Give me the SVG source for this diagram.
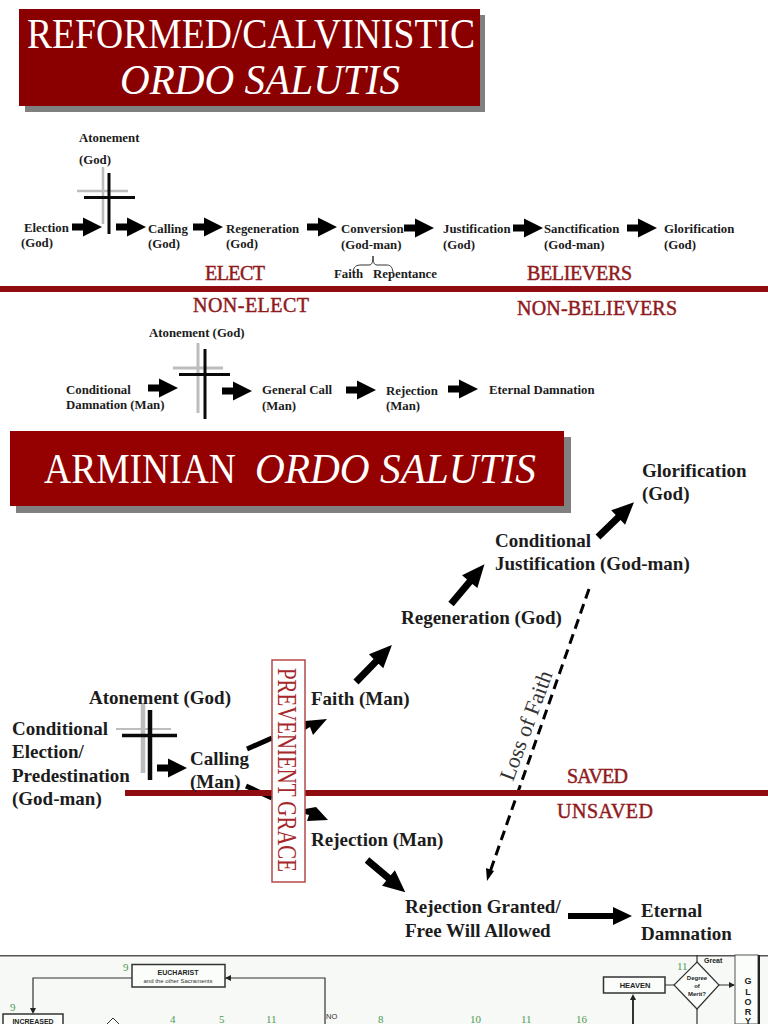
<svg xmlns="http://www.w3.org/2000/svg" width="768" height="1024" viewBox="0 0 768 1024">
<style>
.t{font-family:"Liberation Serif",serif;font-weight:bold;fill:#1c1c1c}
.s{font-size:12.8px}
.m{font-size:19px}
.red{font-family:"Liberation Serif",serif;fill:#8f1a1c;stroke:#8f1a1c;stroke-width:.45px;font-size:20px}
.sh{fill:#808080}
.bt{font-family:"Liberation Serif",serif;fill:#fff}
.bi{font-style:italic}
.div{fill:#8f0d10}
.g{stroke:#bdbdbd;fill:none}
.k{stroke:#0a0a0a;fill:none}
.fl{font-family:"Liberation Sans",sans-serif;fill:#222;font-weight:bold}
.gn{font-family:"Liberation Serif",serif;fill:#4f9a55;font-size:11px}
.fb{fill:#fbfdfa;stroke:#333}
.fc{stroke:#333;fill:none}
</style>
<defs>
<path id="a" d="M0-3.500H11V-9.500L30 0 11 9.500V3.500H0Z" fill="#000"/>
<path id="b" d="M0-3.500H28V-10L50 0 28 10V3.500H0Z" fill="#000"/>
</defs>
<rect width="768" height="1024" fill="#fff"/>

<g id="banner-reformed">
<rect class="sh" x="25" y="15" width="460" height="97"/>
<rect x="19" y="9" width="461" height="97" fill="#8a0000"/>
<text class="bt" x="27" y="48" font-size="42" textLength="448" lengthAdjust="spacingAndGlyphs">REFORMED/CALVINISTIC</text>
<text class="bt bi" x="120" y="94" font-size="42" textLength="280" lengthAdjust="spacingAndGlyphs">ORDO SALUTIS</text>
</g>

<g id="connectors">
<use href="#a" transform="translate(72 227)"/>
<use href="#a" transform="translate(116 227)"/>
<use href="#a" transform="translate(193 227)"/>
<use href="#a" transform="translate(307 227)"/>
<use href="#a" transform="translate(404 228)"/>
<use href="#a" transform="translate(513 228)"/>
<use href="#a" transform="translate(627 228)"/>
<use href="#a" transform="translate(148 388)"/>
<use href="#a" transform="translate(222 391)"/>
<use href="#a" transform="translate(346 390)"/>
<use href="#a" transform="translate(448 389)"/>
<use href="#a" transform="translate(157 768)"/>
<path d="M247 749L272 738" stroke="#000" stroke-width="5" fill="none"/>
<path d="M246 786L272 798" stroke="#000" stroke-width="5" fill="none"/>
<path d="M305 721L327 719 313 735 310 727 305 730Z" fill="#000"/>
<path d="M305 809L316 807 328 820 307 821 309 815 305 814Z" fill="#000"/>
<use href="#b" transform="translate(356 682) rotate(-45.800) scale(1.030 1)"/>
<use href="#b" transform="translate(451 604) rotate(-50) scale(1.040 1)"/>
<use href="#b" transform="translate(598 537) rotate(-44)"/>
<use href="#b" transform="translate(367 860) rotate(40)"/>
<path d="M0-3H45V-9L64 0 45 9V3H0Z" transform="translate(568 916)" fill="#000"/>
<path d="M589 589L490 872" stroke="#000" stroke-width="3" stroke-dasharray="10 6" fill="none"/>
<path d="M487 881L486 868 494 871Z" fill="#000"/>
<path d="M353 272C354 266 356 265 362 265H369C372 265 373 262 373 256C373 262 374 265 377 265H386C390 265 392 266 393 272" stroke="#333" fill="none"/>
</g>

<g id="dividers">
<rect class="div" x="0" y="286" width="768" height="6"/>
<rect class="div" x="125" y="790" width="643" height="6"/>
</g>

<g id="cross-1">
<path class="g" stroke-width="2.500" d="M103 167V224M77 191H128"/>
<path class="k" stroke-width="3" d="M109 173V234M84 197.500H135"/>
</g>
<g id="cross-2">
<path class="g" stroke-width="3" d="M198 343V413M173 368H223"/>
<path class="k" stroke-width="3" d="M205 349V419M179 374.500H230"/>
</g>
<g id="cross-3">
<path class="g" stroke-width="4.500" d="M143 703V773"/>
<path class="g" stroke-width="2" d="M116 729H171"/>
<path class="k" stroke-width="4.500" d="M150 710V780"/>
<path class="k" stroke-width="3.500" d="M122 735.500H177"/>
</g>

<g id="labels-reformed">
<text class="t s" x="79" y="142">Atonement</text>
<text class="t s" x="79" y="164">(God)</text>
<text class="t s" x="24" y="232">Election</text><text class="t s" x="21" y="247">(God)</text>
<text class="t s" x="148" y="233">Calling</text><text class="t s" x="148" y="248">(God)</text>
<text class="t s" x="226" y="233">Regeneration</text><text class="t s" x="226" y="248">(God)</text>
<text class="t s" x="341" y="233">Conversion</text><text class="t s" x="341" y="249">(God-man)</text>
<text class="t s" x="443" y="233">Justification</text><text class="t s" x="443" y="249">(God)</text>
<text class="t s" x="544" y="233">Sanctification</text><text class="t s" x="544" y="249">(God-man)</text>
<text class="t s" x="664" y="233">Glorification</text><text class="t s" x="664" y="249">(God)</text>
<text class="t s" x="334" y="278">Faith</text><text class="t s" x="373" y="278">Repentance</text>
<text class="red" x="205" y="280" textLength="60">ELECT</text>
<text class="red" x="527" y="280" textLength="105">BELIEVERS</text>
<text class="red" x="193" y="312" textLength="116">NON-ELECT</text>
<text class="red" x="517" y="315" textLength="160">NON-BELIEVERS</text>
</g>

<g id="labels-nonelect">
<text class="t s" x="149" y="337">Atonement (God)</text>
<text class="t s" x="66" y="394">Conditional</text><text class="t s" x="66" y="409">Damnation (Man)</text>
<text class="t s" x="262" y="394">General Call</text><text class="t s" x="262" y="410">(Man)</text>
<text class="t s" x="386" y="395">Rejection</text><text class="t s" x="386" y="410">(Man)</text>
<text class="t s" x="489" y="394">Eternal Damnation</text>
</g>

<g id="banner-arminian">
<rect class="sh" x="16" y="437" width="555" height="76"/>
<rect x="10" y="431" width="554" height="75" fill="#950000"/>
<text class="bt" x="44" y="483" font-size="42" textLength="192" lengthAdjust="spacingAndGlyphs">ARMINIAN</text>
<text class="bt bi" x="255" y="483" font-size="42" textLength="281" lengthAdjust="spacingAndGlyphs">ORDO SALUTIS</text>
</g>

<g id="prevenient-grace">
<rect x="272" y="660" width="33" height="222" fill="#fff" stroke="#b5494c" stroke-width="1.500"/>
<text transform="translate(278 668) rotate(90)" font-family="Liberation Serif,serif" font-size="27" fill="#a6282b" textLength="204" lengthAdjust="spacingAndGlyphs">PREVENIENT GRACE</text>
</g>

<g id="labels-arminian">
<text class="t m" x="642" y="477">Glorification</text><text class="t m" x="642" y="500">(God)</text>
<text class="t m" x="495" y="547">Conditional</text><text class="t m" x="495" y="570">Justification (God-man)</text>
<text class="t m" x="401" y="624">Regeneration (God)</text>
<text class="t m" x="311" y="705">Faith (Man)</text>
<text class="t m" x="89" y="704">Atonement (God)</text>
<text class="t m" x="12" y="735">Conditional</text>
<text class="t m" x="12" y="758">Election/</text>
<text class="t m" x="12" y="782">Predestination</text>
<text class="t m" x="12" y="805">(God-man)</text>
<text class="t m" x="190" y="765">Calling</text><text class="t m" x="190" y="788">(Man)</text>
<text class="t m" x="311" y="846">Rejection (Man)</text>
<text class="t m" x="405" y="913">Rejection Granted/</text>
<text class="t m" x="405" y="937">Free Will Allowed</text>
<text class="t m" x="641" y="917">Eternal</text>
<text class="t m" x="641" y="940">Damnation</text>
<text font-family="Liberation Serif,serif" font-size="22" fill="#333" transform="translate(513 782) rotate(-69.700)" textLength="115" lengthAdjust="spacingAndGlyphs">Loss of Faith</text>
<text class="red" x="567" y="783" textLength="61">SAVED</text>
<text class="red" x="557" y="818" textLength="96">UNSAVED</text>
</g>

<g id="flowchart-fragment">
<rect x="0" y="955" width="768" height="69" fill="#f6f9f5"/>
<rect x="0" y="955" width="768" height="1.500" fill="#555"/>
<g id="node-eucharist">
<rect class="fb" x="132" y="964.500" width="93" height="22.500" stroke-width="1.500"/>
<text class="fl" x="178" y="975" font-size="7" text-anchor="middle">EUCHARIST</text>
<text x="178" y="983" font-family="Liberation Sans,sans-serif" fill="#333" font-size="6" text-anchor="middle">and the other Sacraments</text>
</g>
<path class="fc" stroke-width="1.200" d="M132 978H33V1012M325 1024V978H225"/>
<path d="M33 1014L30 1008H36Z M225 978L231 975V981Z" fill="#222"/>
<g id="node-increased">
<rect class="fb" x="3" y="1014" width="60" height="14" stroke-width="1.500"/>
<text class="fl" x="33" y="1024" font-size="7" text-anchor="middle">INCREASED</text>
</g>
<path id="node-diamond-left" class="fb" d="M101 1030L113 1018 125 1030" stroke-width="1"/>
<text x="326" y="1019" font-family="Liberation Sans,sans-serif" fill="#333" font-size="7.500">NO</text>
<text class="gn" x="123" y="971">9</text><text class="gn" x="10" y="1011">9</text><text class="gn" x="170" y="1023">4</text><text class="gn" x="219" y="1023">5</text><text class="gn" x="266" y="1023">11</text><text class="gn" x="378" y="1023">8</text><text class="gn" x="470" y="1023">10</text><text class="gn" x="521" y="1023">11</text><text class="gn" x="576" y="1023">16</text>
<g id="node-heaven">
<rect class="fb" x="603.500" y="977" width="61.500" height="16" stroke-width="1.500"/>
<text class="fl" x="635" y="988" font-size="7.500" text-anchor="middle">HEAVEN</text>
</g>
<path class="fc" stroke-width="1.200" d="M697 955V963M697 1009V1024M719 985H734"/>
<path class="fc" stroke-width="2" d="M633 1024V997"/>
<path d="M633 994L630 1000H636Z" fill="#222"/>
<path class="fc" stroke-width="1" d="M665 985H675"/>
<path d="M674 985L680 982V988Z M735 985L729 982V988Z" fill="#222"/>
<g id="node-degree">
<path class="fb" d="M697 962L719 985 697 1009 674 985Z" stroke-width="1.200"/>
<text class="fl" x="697" y="980" font-size="6" text-anchor="middle">Degree</text>
<text class="fl" x="697" y="988" font-size="6" text-anchor="middle">of</text>
<text class="fl" x="697" y="996" font-size="6" text-anchor="middle">Merit?</text>
</g>
<text class="fl" x="704" y="963" font-size="7">Great</text>
<text class="gn" x="677" y="970" font-size="12">11</text>
<g id="node-glory">
<rect x="735" y="955" width="23" height="69" fill="#fbfdfa" stroke="#555"/>
<path d="M759 955V1024" stroke="#222" stroke-width="2"/>
<text class="fl" x="748" y="984" font-size="9" text-anchor="middle">G</text>
<text class="fl" x="748" y="994.500" font-size="9" text-anchor="middle">L</text>
<text class="fl" x="748" y="1005" font-size="9" text-anchor="middle">O</text>
<text class="fl" x="748" y="1015" font-size="9" text-anchor="middle">R</text>
<text class="fl" x="748" y="1024" font-size="9" text-anchor="middle">Y</text>
</g>
</g>
</svg>
